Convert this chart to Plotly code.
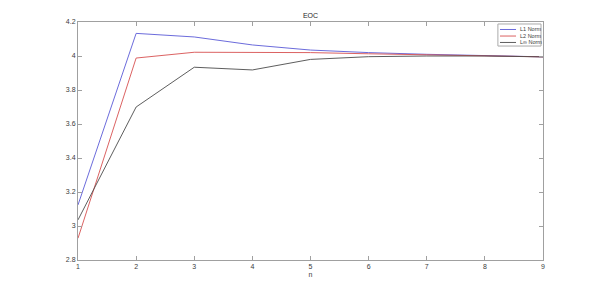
import plotly.graph_objects as go

n = [1, 2, 3, 4, 5, 6, 7, 8, 9]
l1_norm = [3.124, 4.133, 4.112, 4.065, 4.035, 4.020, 4.010, 4.004, 3.995]
l2_norm = [2.928, 3.988, 4.022, 4.020, 4.020, 4.013, 4.006, 4.002, 3.995]
linf_norm = [3.036, 3.700, 3.934, 3.918, 3.980, 3.996, 4.000, 4.000, 3.995]

series = [
    ("L1 Norm", l1_norm, "rgb(90,90,215)"),
    ("L2 Norm", l2_norm, "rgb(215,80,80)"),
    ("L\u221e Norm", linf_norm, "rgb(75,75,75)"),
]

fig = go.Figure()
for name, vals, col in series:
    fig.add_trace(go.Scatter(x=n, y=vals, mode="lines", name=name,
                             line=dict(color=col, width=0.9), showlegend=False))

axis_common = dict(
    showgrid=False, zeroline=False, showline=True, linecolor="rgb(160,160,160)",
    linewidth=1, mirror="ticks", ticks="inside", ticklen=4,
    tickcolor="rgb(160,160,160)", tickfont=dict(size=7, color="rgb(60,60,60)"),
)

# custom compact legend (MATLAB-style) in paper coordinates
shapes = [dict(type="rect", xref="paper", yref="paper", x0=0.903, x1=0.9957,
               y0=0.899, y1=0.9916, line=dict(color="rgb(170,170,170)", width=1),
               fillcolor="white", layer="above")]
annotations = []
row_y = [0.9685, 0.941, 0.914]
for (name, vals, col), yy in zip(series, row_y):
    shapes.append(dict(type="line", xref="paper", yref="paper", x0=0.9075, x1=0.942,
                       y0=yy, y1=yy, line=dict(color=col, width=0.9), layer="above"))
    annotations.append(dict(text=name, xref="paper", yref="paper", x=0.946, y=yy,
                            xanchor="left", yanchor="middle", showarrow=False,
                            font=dict(size=5.5, color="rgb(60,60,60)")))

fig.update_layout(
    width=600, height=293,
    margin=dict(l=78, r=57, t=22, b=33),
    paper_bgcolor="white", plot_bgcolor="white",
    font=dict(family="Liberation Sans, Arial, sans-serif", size=7, color="rgb(60,60,60)"),
    title=dict(text="EOC", x=0.5175, xanchor="center", y=0.94, yanchor="bottom",
               font=dict(size=7, color="rgb(40,40,40)")),
    xaxis=dict(range=[1, 9], dtick=1, tick0=1,
               title=dict(text="n", standoff=2, font=dict(size=7)), **axis_common),
    yaxis=dict(range=[2.8, 4.2], dtick=0.2, tick0=2.8, **axis_common),
    shapes=shapes,
    annotations=annotations,
    showlegend=False,
)

fig.write_html("out.html")
